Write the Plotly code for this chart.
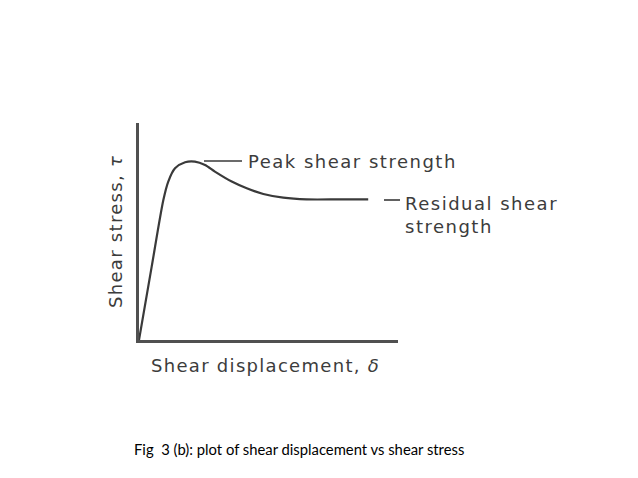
import plotly.graph_objects as go

# shear displacement (x) vs shear stress (y) (0-100 scale)
displacement = [0, 4.9, 9.4, 11.3, 13.9, 17.8, 21.6, 25.5, 29.3, 35.8, 41.6, 48, 55.7, 64.7, 77.6, 88.5]
stress = [0, 33.8, 64.5, 73.0, 79.1, 81.9, 82.2, 80.6, 77.6, 73.0, 69.9, 67.3, 65.6, 64.8, 64.8, 64.8]

peak_label = "Peak shear strength"
residual_label = ["Residual shear", "strength"]
x_title = "Shear displacement, "
y_title = "Shear stress, "
caption = "Fig\u00a0 3 (b): plot of shear displacement vs shear stress"

W, H = 638, 478
OFF = 8  # page body margin
L, R, T, B = 139, 398, 123, 340  # plot area in page pixels


def px(x):
    return (x - L) / (R - L)


def py(y):
    return (B - y) / (B - T)


def spaced(s, sp=1.5):
    return '<span style="letter-spacing:%spx">%s</span>' % (sp, s)


ink = "#3a3a3a"
fnt = dict(family="DejaVu Sans", size=18, color="#3c3c3c")

fig = go.Figure()
fig.add_trace(go.Scatter(x=displacement, y=stress, mode="lines",
                         line=dict(color=ink, width=2.2, shape="spline", smoothing=0.8),
                         hoverinfo="skip"))

fig.update_layout(
    width=W, height=H,
    margin=dict(l=L - OFF, r=W - R + OFF, t=T - OFF, b=H - B + OFF),
    paper_bgcolor="white", plot_bgcolor="white",
    showlegend=False,
    xaxis=dict(range=[0, 100], showgrid=False, zeroline=False, showticklabels=False,
               showline=True, linecolor="#505050", linewidth=2.5, ticks=""),
    yaxis=dict(range=[0, 100], showgrid=False, zeroline=False, showticklabels=False,
               showline=True, linecolor="#505050", linewidth=2.5, ticks=""),
)

# leader lines
fig.add_shape(type="line", xref="paper", yref="paper",
              x0=px(204), x1=px(242), y0=py(161), y1=py(161),
              line=dict(color=ink, width=1.6))
fig.add_shape(type="line", xref="paper", yref="paper",
              x0=px(384), x1=px(400), y0=py(200), y1=py(200),
              line=dict(color=ink, width=1.6))

fig.add_annotation(text=spaced(peak_label), xref="paper", yref="paper", x=px(246), y=py(161),
                   xanchor="left", yanchor="middle", showarrow=False, font=fnt)
fig.add_annotation(text="<br>".join(spaced(s) for s in residual_label), xref="paper", yref="paper",
                   x=px(403), y=py(215), xanchor="left", yanchor="middle",
                   showarrow=False, font=fnt, align="left")
fig.add_annotation(text=spaced(x_title, 1.3) + "<i>δ</i>", xref="paper", yref="paper",
                   x=px(265), y=py(365), xanchor="center", yanchor="middle",
                   showarrow=False, font=fnt)
fig.add_annotation(text=spaced(y_title, 1.3) + "<i>τ</i>", xref="paper", yref="paper",
                   x=px(115), y=py(232), xanchor="center", yanchor="middle",
                   showarrow=False, font=fnt, textangle=-90)
fig.add_annotation(text=caption, xref="paper", yref="paper", x=px(132), y=py(449),
                   xanchor="left", yanchor="middle", showarrow=False,
                   font=dict(family="Lato", size=14.8, color="#000000"))

fig.write_html("out.html")
